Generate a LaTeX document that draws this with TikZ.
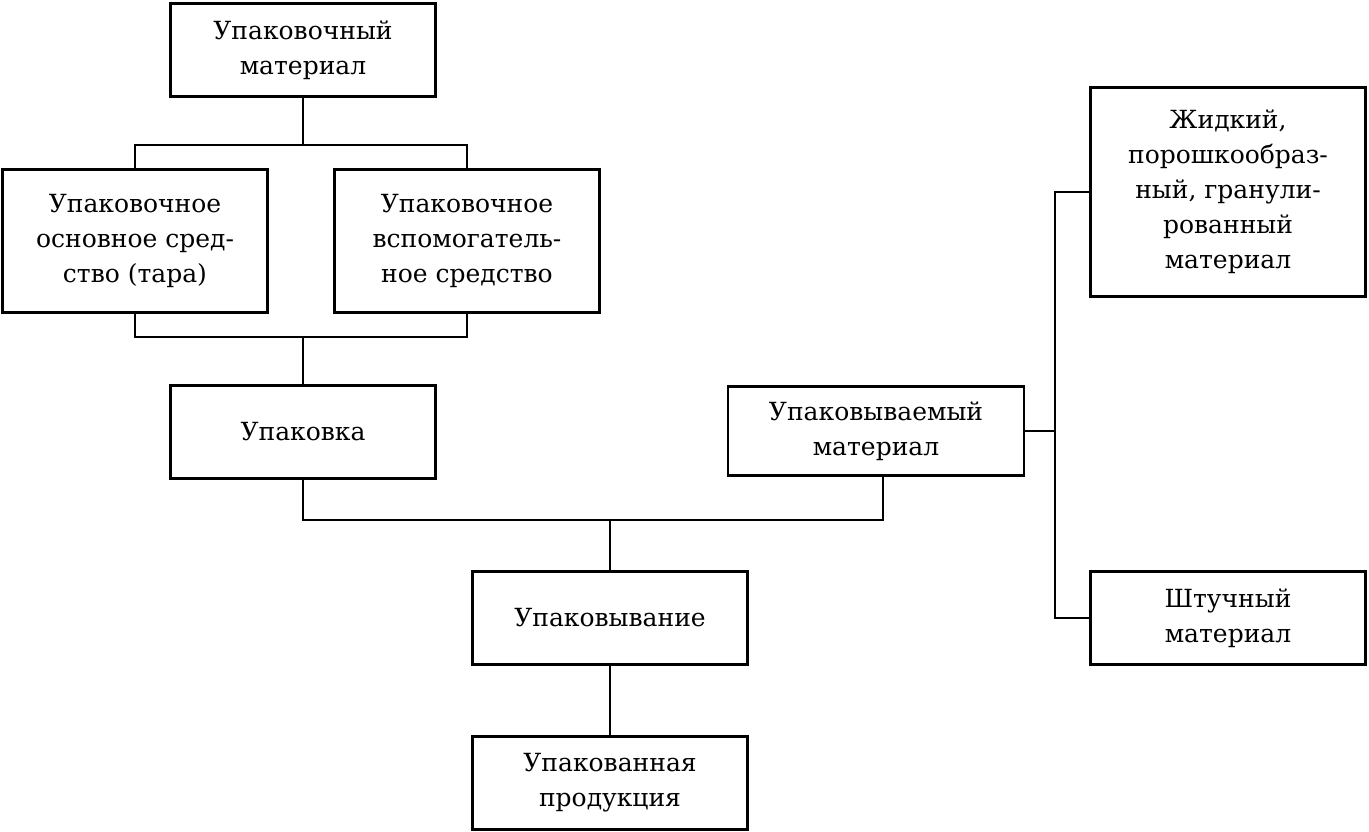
\documentclass[tikz,border=0pt]{standalone}
\usepackage{fontspec}
\setmainfont{DejaVu Serif}
\usetikzlibrary{positioning}

\begin{document}
\begin{tikzpicture}[x=1pt, y=-1pt, line width=2.6pt]
  \tikzset{box/.style={draw, align=center, inner sep=0pt, font=\fontsize{25}{35}\selectfont,
      minimum width=265pt, minimum height=93pt}}
  \useasboundingbox (0,0) rectangle (1369,831);

  \node[box] (M) at (303,50) {Упаковочный\\материал};
  \node[box, minimum height=143pt] (O) at (135,241) {Упаковочное\\основное сред-\\ство (тара)};
  \node[box, minimum height=143pt] (V) at (467,241) {Упаковочное\\вспомогатель-\\ное средство};
  \node[box] (U) at (303,432) {Упаковка};
  \node[box, minimum width=296pt, minimum height=89pt] (W) at (876,431) {Упаковываемый\\материал};
  \node[box, minimum width=275pt, minimum height=209pt] (L) at (1228,192) {Жидкий,\\порошкообраз-\\ный, гранули-\\рованный\\материал};
  \node[box, minimum width=275pt] (S) at (1228,618) {Штучный\\материал};
  \node[box, minimum width=275pt] (P) at (610,618) {Упаковывание};
  \node[box, minimum width=275pt] (R) at (610,783) {Упакованная\\продукция};

  \coordinate (j1) at (303,145);
  \coordinate (j2) at (303,337);
  \coordinate (j3) at (610,520);
  \coordinate (j4) at (1055,431);

  \draw (M.south) -- (j1);
  \draw (O.north) |- (j1) -| (V.north);
  \draw (O.south) |- (j2) -| (V.south);
  \draw (j2) -- (U.north);
  \draw (U.south) |- (j3) -| ([xshift=7pt]W.south);
  \draw (j3) -- (P.north);
  \draw (P) -- (R);
  \draw (W.east) -- (j4);
  \draw (L.west) -| (j4) |- (S.west);
\end{tikzpicture}
\end{document}
